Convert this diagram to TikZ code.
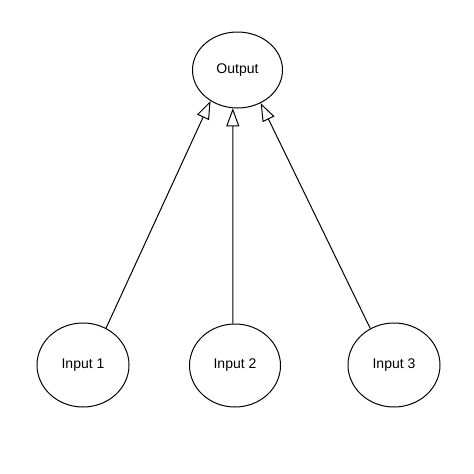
\documentclass[tikz,border=0pt]{standalone}
\usepackage{fontspec}
\setmainfont{Liberation Sans}
\usetikzlibrary{arrows.meta,shapes.geometric}
\begin{document}
\begin{tikzpicture}[x=1pt,y=-1pt,
  circ/.style={ellipse,draw,line width=1pt,inner sep=0pt,font=\fontsize{14}{16}\selectfont},
  conn/.style={line width=1pt,-{Triangle[open,length=18pt,width=13pt,line width=1pt]}}]
\useasboundingbox (0,0) rectangle (474,474);
\node[circ,minimum width=90pt,minimum height=76pt] (out) at (237.5,70) {Output};
\node[circ,minimum width=92pt,minimum height=84pt] (in1) at (83,365) {Input 1};
\node[circ,minimum width=91pt,minimum height=83pt] (in2) at (235,365.5) {Input 2};
\node[circ,minimum width=92pt,minimum height=84pt] (in3) at (394,365) {Input 3};
\draw[conn] (in1.58) -- (out.229.6);
\draw[conn] (in2.93) -- (out.263);
\draw[conn] (in3.123) -- (out.305.5);
\end{tikzpicture}
\end{document}
